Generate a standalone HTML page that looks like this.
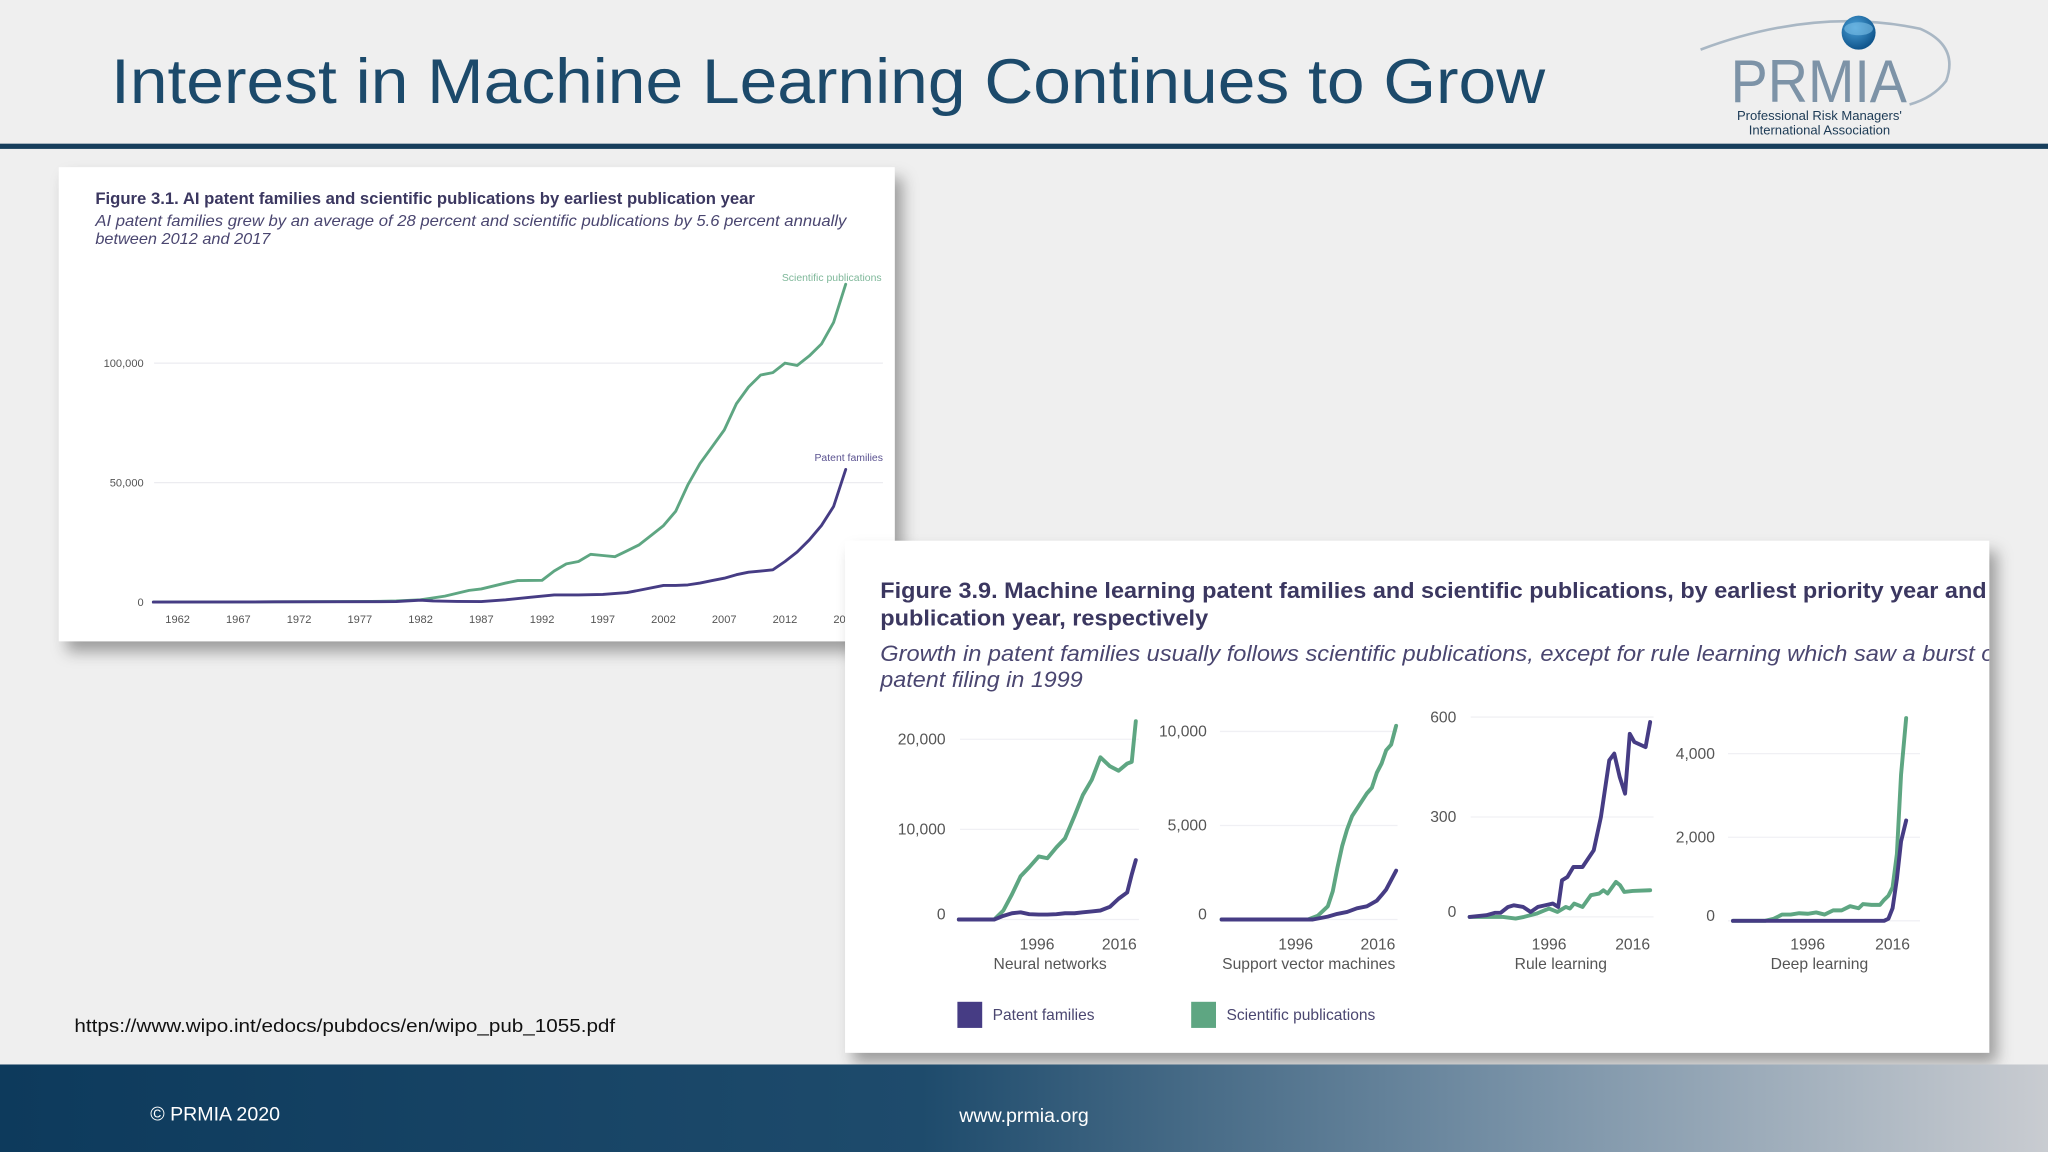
<!DOCTYPE html>
<html><head><meta charset="utf-8"><style>
html,body{margin:0;padding:0;background:#efefef;}
svg{display:block;}
text{font-family:"Liberation Sans",sans-serif;}
</style></head><body>
<svg id="root" width="2048" height="1152" viewBox="0 0 1568 882" xmlns="http://www.w3.org/2000/svg">
<defs>
<filter id="sh" x="-10%" y="-10%" width="125%" height="130%"><feDropShadow dx="6" dy="8" stdDeviation="6" flood-color="#000" flood-opacity="0.35"/></filter>
<linearGradient id="foot" x1="0" x2="1" y1="0" y2="0"><stop offset="0" stop-color="#0d3a5c"/><stop offset="0.45" stop-color="#1e4b6c"/><stop offset="0.75" stop-color="#7a93a8"/><stop offset="1" stop-color="#c9ccd1"/></linearGradient>
<radialGradient id="globe" cx="0.4" cy="0.35" r="0.7"><stop offset="0" stop-color="#4aa0d8"/><stop offset="1" stop-color="#0b4f86"/></radialGradient>
<clipPath id="c2clip"><rect x="647" y="414" width="876" height="392"/></clipPath>
</defs>
<rect x="0" y="0" width="1568" height="882" fill="#efefef"/>
<text x="85" y="79" font-size="48" fill="#1c4a6b" textLength="1098" lengthAdjust="spacingAndGlyphs">Interest in Machine Learning Continues to Grow</text>
<rect x="0" y="110" width="1568" height="4" fill="#173e5c"/>
<g>
<path d="M1302 38 Q1390 5 1470 22 Q1500 35 1490 62 Q1480 75 1462 80" fill="none" stroke="#a9b7c4" stroke-width="2"/>
<circle cx="1423" cy="25" r="13" fill="url(#globe)"/>
<ellipse cx="1423" cy="22" rx="11" ry="5" fill="#7cc0e8" opacity="0.6"/>
<text x="1325" y="78" font-size="46" fill="#7d93a7" textLength="135" lengthAdjust="spacingAndGlyphs">PRMIA</text>
<text x="1393" y="92" font-size="10" fill="#1c3a55" text-anchor="middle">Professional Risk Managers'</text>
<text x="1393" y="103" font-size="10" fill="#1c3a55" text-anchor="middle">International Association</text>
</g>

<g id="chart1">
<rect x="45" y="128" width="640" height="363" fill="#fff" filter="url(#sh)"/>
<text x="73" y="156" font-size="12.5" font-weight="bold" fill="#3b3760" textLength="505" lengthAdjust="spacingAndGlyphs">Figure 3.1. AI patent families and scientific publications by earliest publication year</text>
<text x="73" y="173" font-size="12" font-style="italic" fill="#4a4670" textLength="575" lengthAdjust="spacingAndGlyphs">AI patent families grew by an average of 28 percent and scientific publications by 5.6 percent annually</text>
<text x="73" y="187" font-size="12" font-style="italic" fill="#4a4670" textLength="134" lengthAdjust="spacingAndGlyphs">between 2012 and 2017</text>
<g id="c1grid"></g><g id="c1lines"></g>
</g>

<g id="chart2">
<rect x="647" y="414" width="876" height="392" fill="#fff" filter="url(#sh)"/>
<g clip-path="url(#c2clip)">
<text x="674" y="458" font-size="17" font-weight="bold" fill="#3b3760" textLength="847" lengthAdjust="spacingAndGlyphs">Figure 3.9. Machine learning patent families and scientific publications, by earliest priority year and</text>
<text x="674" y="479" font-size="17" font-weight="bold" fill="#3b3760" textLength="251" lengthAdjust="spacingAndGlyphs">publication year, respectively</text>
<text x="674" y="506" font-size="17" font-style="italic" fill="#4a4670" textLength="858" lengthAdjust="spacingAndGlyphs">Growth in patent families usually follows scientific publications, except for rule learning which saw a burst of</text>
<text x="674" y="526" font-size="17" font-style="italic" fill="#4a4670" textLength="155" lengthAdjust="spacingAndGlyphs">patent filing in 1999</text>
</g>
<g id="panels"></g>
<rect x="733" y="767" width="19" height="20" fill="#463c84"/>
<text x="760" y="781" font-size="12" fill="#4a4670" textLength="78" lengthAdjust="spacingAndGlyphs">Patent families</text>
<rect x="912" y="767" width="19" height="20" fill="#5ea682"/>
<text x="939" y="781" font-size="12" fill="#4a4670" textLength="114" lengthAdjust="spacingAndGlyphs">Scientific publications</text>
</g>

<text x="57" y="790" font-size="14" fill="#111" font-family="Liberation Mono, monospace" textLength="414" lengthAdjust="spacingAndGlyphs">https://www.wipo.int/edocs/pubdocs/en/wipo_pub_1055.pdf</text>
<rect x="0" y="815" width="1568" height="67" fill="url(#foot)"/>
<text x="115" y="858" font-size="15" fill="#fff">© PRMIA 2020</text>
<text x="784" y="859" font-size="15" fill="#fff" text-anchor="middle">www.prmia.org</text>
</svg>
<script>
const NS="http://www.w3.org/2000/svg";
// Chart 1 data
const c1Years=[1960,1970,1978,1980,1982,1984,1986,1987,1989,1990,1992,1993,1994,1995,1996,1997,1998,1999,2000,2001,2002,2003,2004,2005,2006,2007,2008,2009,2010,2011,2012,2013,2014,2015,2016,2017];
const c1Pubs=[0,100,300,500,1000,2500,4900,5500,8000,9000,9100,13000,16000,17000,20000,19500,19000,21500,24000,28000,32000,38000,49000,58000,65000,72000,83000,90000,95000,96000,100000,99000,103000,108000,117000,133000];
const c1PatYears=[1960,1970,1980,1982,1983,1985,1987,1989,1991,1993,1995,1997,1999,2000,2002,2003,2004,2005,2006,2007,2008,2009,2010,2011,2012,2013,2014,2015,2016,2017];
const c1Patents=[0,100,200,800,500,300,200,1000,2000,3000,3000,3200,4000,5000,7000,7000,7200,8000,9000,10000,11500,12500,13000,13500,17000,21000,26000,32000,40000,55500];
const c1YTicks=[0,50000,100000];
const c1YTickLabels=["0","50,000","100,000"];
const c1XTicks=[1962,1967,1972,1977,1982,1987,1992,1997,2002,2007,2012,2017];

// Chart 2 data
const nnYearsPub=[1977,1981.3,1985.6,1987.8,1989.9,1992,1994.1,1996.4,1998.5,2000.7,2002.8,2005.1,2007.1,2009.3,2011.4,2013.7,2015.8,2017.9,2019,2020];
const nnPubs=[0,0,0,1000,2800,4800,5800,7000,6800,8000,9000,11500,13800,15500,18000,17000,16500,17300,17500,22000];
const nnYearsPat=[1977,1985.6,1987.8,1989.9,1992,1994.1,1996.4,1998.5,2000.7,2002.8,2005.1,2007.1,2009.3,2011.4,2013.7,2015.8,2017.9,2019,2020];
const nnPatents=[0,0,400,700,800,600,550,550,600,700,700,800,900,1000,1400,2300,3000,5000,6600];
const svmYearsPub=[1978,1999,2001.4,2003.8,2005,2006.1,2007.3,2008.5,2009.7,2012.1,2013.3,2014.5,2015.7,2016.9,2018,2019.2,2020.4];
const svmPubs=[0,0,200,700,1500,2700,3900,4800,5500,6300,6700,7000,7800,8300,9000,9300,10300];
const svmYearsPat=[1978,2000.2,2003.8,2006.1,2008.5,2010.9,2013.3,2015.7,2016.9,2018,2019.2,2020.4];
const svmPatents=[0,0,150,300,400,600,700,1000,1300,1600,2100,2600];
const rlYearsPat=[1977,1981,1983,1984.4,1986.2,1987.6,1989.8,1991.6,1993.3,1995.1,1996.9,1998.2,1999.1,2000.4,2001.8,2004,2006.7,2008.4,2010.4,2011.6,2012.9,2014.2,2015.3,2016.4,2019.1,2020.2];
const rlPatents=[0,5,12,12,30,35,30,15,30,35,40,30,110,120,150,150,200,300,470,490,420,370,550,525,510,585];
const rlYearsPub=[1977,1985,1988,1990,1993,1995,1996,1998,2000,2001,2002,2004,2006,2008,2009,2010,2012,2013,2014,2016,2020.2];
const rlPubs=[0,0,-5,0,10,20,25,15,30,25,40,30,65,70,80,70,105,95,75,78,80];
const dlYearsPub=[1978.4,1986,1988,1990,1992,1994,1996,1998,2000,2002,2004,2006,2008,2009,2011,2013,2014,2015,2016,2017,2018,2019.2];
const dlPubs=[0,0,50,150,150,180,170,200,150,250,250,350,300,400,380,380,500,600,800,1600,3500,4850];
const dlYearsPat=[1978.4,2014,2015,2016,2017,2018,2019.2];
const dlPatents=[0,0,50,300,1000,1900,2400];
const panelNames=["Neural networks","Support vector machines","Rule learning","Deep learning"];
const panelYTicks=[[0,10000,20000],[0,5000,10000],[0,300,600],[0,2000,4000]];
const panelYTickLabels=[["0","10,000","20,000"],["0","5,000","10,000"],["0","300","600"],["0","2,000","4,000"]];
const panelXTicks=[1996,2016];

const PURPLE="#463c84", GREEN="#5ea682";
function mk(tag,attrs,parent){const e=document.createElementNS(NS,tag);for(const k in attrs)e.setAttribute(k,attrs[k]);parent.appendChild(e);return e;}
function line(xs,ys,fx,fy,color,w,parent,name){
  const d=xs.map((x,i)=>(i?"L":"M")+fx(x).toFixed(1)+" "+fy(ys[i]).toFixed(1)).join(" ");
  const p=mk("path",{d:d,fill:"none",stroke:color,"stroke-width":w,"stroke-linejoin":"round","stroke-linecap":"round"},parent);
  
  
}

// chart 1
(function(){
  const fx=y=>136+(y-1962)*9.3, fy=v=>461-v*(183/100000);
  const g=document.getElementById("c1grid"), L=document.getElementById("c1lines");
  c1YTicks.forEach((t,i)=>{
    if(t>0){const gl=mk("line",{x1:118,x2:676,y1:fy(t),y2:fy(t),stroke:"#ececf0","stroke-width":1},g);
      
      }
    const tx=mk("text",{x:110,y:fy(t)+3,"font-size":8.5,fill:"#555","text-anchor":"end"},g);tx.textContent=c1YTickLabels[i];
    
    
  });
  c1XTicks.forEach(t=>{const tx=mk("text",{x:fx(t),y:477,"font-size":8.5,fill:"#555","text-anchor":"middle"},g);tx.textContent=t;
    
    });
  line(c1Years,c1Pubs,fx,fy,GREEN,2.2,L,"chart1-publications-line");
  line(c1PatYears,c1Patents,fx,fy,PURPLE,2.2,L,"chart1-patents-line");
  const a=mk("text",{x:675,y:215,"font-size":8,fill:"#7fb89a","text-anchor":"end"},L);a.textContent="Scientific publications";
  
  
  const b=mk("text",{x:676,y:353,"font-size":8,fill:"#5a5290","text-anchor":"end"},L);b.textContent="Patent families";
  
  
})();

// chart 2 panels
(function(){
  const P=document.getElementById("panels");
  const geo=[
    {x96:794,x16:857,y0:704,ytop:566,xl:735,xr:872,lab:724,cx:804},
    {x96:992,x16:1055,y0:704,ytop:560,xl:934,xr:1070,lab:924,cx:1002},
    {x96:1186,x16:1250,y0:702,ytop:549,xl:1126,xr:1266,lab:1115,cx:1195},
    {x96:1384,x16:1449,y0:705,ytop:577,xl:1323,xr:1470,lab:1313,cx:1393}
  ];
  const series=[[nnYearsPat,nnPatents,nnYearsPub,nnPubs],[svmYearsPat,svmPatents,svmYearsPub,svmPubs],[rlYearsPat,rlPatents,rlYearsPub,rlPubs],[dlYearsPat,dlPatents,dlYearsPub,dlPubs]];
  geo.forEach((g,i)=>{
    const grp=mk("g",{},P);
    
    
    const ticks=panelYTicks[i], maxT=ticks[ticks.length-1];
    const fx=y=>g.x96+(y-1996)*(g.x16-g.x96)/20;
    const fy=v=>g.y0-v*(g.y0-g.ytop)/maxT;
    ticks.forEach((t,j)=>{
      const gl=mk("line",{x1:g.xl,x2:g.xr,y1:fy(t),y2:fy(t),stroke:"#f0f0f4","stroke-width":1},grp);
      
      
      const tx=mk("text",{x:g.lab,y:fy(t)+(t===0?0:4),"font-size":12,fill:"#555","text-anchor":"end"},grp);tx.textContent=panelYTickLabels[i][j];
      
      
    });
    panelXTicks.forEach(t=>{const tx=mk("text",{x:fx(t),y:727,"font-size":12,fill:"#555","text-anchor":"middle"},grp);tx.textContent=t;
      
      });
    const nm=mk("text",{x:g.cx,y:742,"font-size":12,fill:"#555","text-anchor":"middle"},grp);nm.textContent=panelNames[i];
    
    
    const s=series[i];
    line(s[2],s[3],fx,fy,GREEN,3,grp,"panel-publications-line");
    line(s[0],s[1],fx,fy,PURPLE,3,grp,"panel-patents-line");
  });
})();
</script>
</body></html>
